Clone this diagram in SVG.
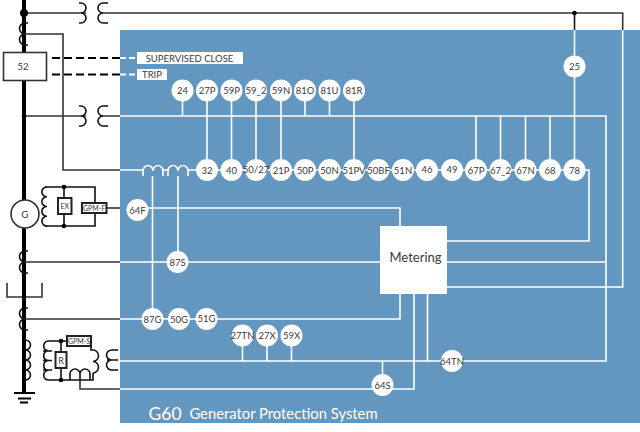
<svg xmlns="http://www.w3.org/2000/svg" xmlns:xlink="http://www.w3.org/1999/xlink" width="640" height="432" viewBox="0 0 640 432">
<style>
.d{fill:none;stroke:#333;stroke-width:1.600}
.b{fill:none;stroke:#111;stroke-width:1.600}
.w{fill:none;stroke:#fff;stroke-width:1.600}
.bus{fill:none;stroke:#000;stroke-width:4}
.dash{fill:none;stroke:#000;stroke-width:2;stroke-dasharray:8 4}
.wdash{fill:none;stroke:#fff;stroke-width:2;stroke-dasharray:6 3}
.n circle{fill:#fff}
text{font-family:"Lato","Liberation Sans",sans-serif;fill:#3a3a3a;text-anchor:middle;font-size:9.500px}
.s{font-size:7px}
.box{fill:#fff;stroke:#333;stroke-width:1.600}
.thk{fill:#fff;stroke:#222;stroke-width:2}
</style>
<defs>
<g id="ct"><path class="b" d="M-7 -10h2a5 5 0 0 1 0 10a5 5 0 0 1 0 10h-2"/><path class="b" d="M22 -10h-5a5 5 0 0 0 0 10a5 5 0 0 0 0 10h5"/></g>
<path id="vct" class="b" d="M28 -11h-3a5.500 5.500 0 0 0 0 11a5.500 5.500 0 0 0 0 11h3"/>
<circle id="dot" r="2.300" fill="#000"/>
</defs>
<rect id="panel" x="120" y="30" width="520" height="393" fill="#6497bf"/>
<g id="connectors">
<path class="bus" d="M24 0V385"/>
<path class="bus" d="M24 380V393"/>
<path class="d" d="M24 13H86M101 13H622.700V30"/>
<path class="b" d="M574.500 13V30"/>
<path class="d" d="M24 34H63V170H120"/>
<path class="d" d="M24 116H86M101 116H120"/>
<path class="d" d="M24 262H120M24 319H120"/>
<path class="d" d="M107 208H120"/>
<path class="d" d="M80 380V389H120"/>
<path class="dash" d="M52 58H120M52 74.500H120"/>
<path class="wdash" d="M120 58H137M120 74.500H137"/>
<use xlink:href="#ct" x="86" y="13"/>
<use xlink:href="#ct" x="86" y="116"/>
<use xlink:href="#vct" y="34"/>
<use xlink:href="#vct" y="262"/>
<use xlink:href="#vct" y="319"/>
<path class="d" d="M7 283V297H42V283"/>
<path class="b" d="M45 187H95V203M95 213V226H45M64 187V198M64 214V226"/>
<path class="b" d="M47 187a5 4.750 0 0 0 0 9.750a5 4.750 0 0 0 0 9.750a5 4.750 0 0 0 0 9.750a5 4.750 0 0 0 0 9.750"/>
<path class="b" d="M24 340h1a5.500 5 0 0 1 0 10a5.500 5 0 0 1 0 10a5.500 5 0 0 1 0 10a5.500 5 0 0 1 0 10h-1"/>
<path class="b" d="M52 341h-4a5.500 5 0 0 0 0 9.750a5.500 5 0 0 0 0 9.750a5.500 5 0 0 0 0 9.750a5.500 5 0 0 0 0 9.750h4M43 351h9M43 360.500h9M43 370h9"/>
<path class="b" d="M52 341H67M52 380H93V373M61 341V352M61 368V380M91 346V350H93"/>
<path class="b" d="M93 350a5.500 5.750 0 0 1 0 11.500a5.500 5.750 0 0 1 0 11.500"/>
<path class="b" d="M118 350h-6a5.500 5 0 0 0 0 10a5.500 5 0 0 0 0 10h6M107 360h11"/>
<path class="b" d="M70 380V374a5 5 0 0 1 10 0V380M80 374a5 5 0 0 1 10 0V380"/>
<path class="w" d="M120 116H606V361H118"/>
<path class="w" d="M120 170H574.500H589V241H447"/>
<path class="w" d="M622.700 30V287H447"/>
<path class="w" d="M574.500 30V170"/>
<path class="w" d="M127 208H400V226"/>
<path class="w" d="M120 262H606"/>
<path class="w" d="M120 319H400V294"/>
<path class="w" d="M120 389H414V294"/>
<path class="w" d="M427.500 294V361M382.500 361V385"/>
<path class="w" d="M152.500 170V319M178 170V262"/>
<path class="w" d="M182.500 95V116M305 95V116M329.500 95V116"/>
<path class="w" d="M207 95V170M231.500 95V170M256 95V170M281 95V170M354 95V170"/>
<path class="w" d="M476 116V170M500.500 116V170M525.500 116V170M550 116V170"/>
<path class="w" d="M242.500 340V361M267 340V361M291.500 340V361"/>
<path d="M143 176V171a5 5.500 0 0 1 10 0a5 5.500 0 0 1 10 0V176M168 176V171a5 5.500 0 0 1 10 0a5 5.500 0 0 1 10 0V176" fill="#6497bf" stroke="#fff" stroke-width="1.600"/>
<circle cx="24" cy="13" r="4" fill="#000"/>
<use xlink:href="#dot" x="574.500" y="13"/>
<use xlink:href="#dot" x="24" y="116"/>
<use xlink:href="#dot" x="24" y="297"/>
<use xlink:href="#dot" x="64" y="187"/>
<use xlink:href="#dot" x="64" y="226"/>
<use xlink:href="#dot" x="61" y="341"/>
<use xlink:href="#dot" x="61" y="380"/>
</g>
<g id="ground"><path d="M14 393H35M18 398.500H31M20 402.500H28" fill="none" stroke="#000" stroke-width="1.800"/></g>
<g id="n52"><rect class="box" x="3.500" y="52.500" width="43" height="28"/><text x="23" y="69.500">52</text></g>
<g id="nG"><circle cx="25" cy="214" r="14" class="box"/><text x="25" y="218" style="font-size:10px">G</text></g>
<g id="nEX"><rect class="thk" x="58" y="198" width="13.500" height="16"/><text class="s" x="64.700" y="209">EX</text></g>
<g id="nGPMF"><rect class="thk" x="82" y="203" width="24.500" height="10"/><text class="s" x="94.200" y="211">GPM-F</text></g>
<g id="nR"><rect class="thk" x="55.500" y="352" width="11" height="16"/><text x="61" y="364" style="font-size:9px">R</text></g>
<g id="nGPMS"><rect class="thk" x="67" y="336" width="24" height="10"/><text class="s" x="79" y="344">GPM-S</text></g>
<g id="close"><rect x="137" y="52" width="106" height="12" fill="#fff"/><text x="189.500" y="61.500">SUPERVISED CLOSE</text></g>
<g id="trip"><rect x="137" y="69" width="30" height="11" fill="#fff"/><text x="152" y="78">TRIP</text></g>
<g id="metering"><rect x="380" y="226" width="67" height="68" fill="#fff"/><text x="415.500" y="262" style="font-size:13px">Metering</text></g>
<g id="n24" class="n"><circle cx="182.500" cy="90.500" r="11"/><text x="182.500" y="94">24</text></g>
<g id="n27P" class="n"><circle cx="207" cy="90.500" r="11"/><text x="207" y="94">27P</text></g>
<g id="n59P" class="n"><circle cx="231.500" cy="90.500" r="11"/><text x="231.500" y="94">59P</text></g>
<g id="n59_2" class="n"><circle cx="256" cy="90.500" r="11"/><text x="256" y="94">59_2</text></g>
<g id="n59N" class="n"><circle cx="281" cy="90.500" r="11"/><text x="281" y="94">59N</text></g>
<g id="n81O" class="n"><circle cx="305" cy="90.500" r="11"/><text x="305" y="94">81O</text></g>
<g id="n81U" class="n"><circle cx="329.500" cy="90.500" r="11"/><text x="329.500" y="94">81U</text></g>
<g id="n81R" class="n"><circle cx="354" cy="90.500" r="11"/><text x="354" y="94">81R</text></g>
<g id="n25" class="n"><circle cx="574.500" cy="66.500" r="11"/><text x="574.500" y="70">25</text></g>
<g id="n32" class="n"><circle cx="207" cy="170" r="11"/><text x="207" y="173.500">32</text></g>
<g id="n40" class="n"><circle cx="231.500" cy="170" r="11"/><text x="231.500" y="173.500">40</text></g>
<g id="n50_27" class="n"><circle cx="256" cy="170" r="11"/><text x="256" y="172.500">50/27</text></g>
<g id="n21P" class="n"><circle cx="281" cy="170" r="11"/><text x="281" y="173.500">21P</text></g>
<g id="n50P" class="n"><circle cx="305" cy="170" r="11"/><text x="305" y="173.500">50P</text></g>
<g id="n50N" class="n"><circle cx="329.500" cy="170" r="11"/><text x="329.500" y="173.500">50N</text></g>
<g id="n51PV" class="n"><circle cx="354" cy="170" r="11"/><text x="354" y="173.500">51PV</text></g>
<g id="n50BF" class="n"><circle cx="378.500" cy="170" r="11"/><text x="378.500" y="173.500">50BF</text></g>
<g id="n51N" class="n"><circle cx="403" cy="170" r="11"/><text x="403" y="173.500">51N</text></g>
<g id="n46" class="n"><circle cx="427" cy="170" r="11"/><text x="427" y="173">46</text></g>
<g id="n49" class="n"><circle cx="452" cy="170" r="11"/><text x="452" y="173">49</text></g>
<g id="n67P" class="n"><circle cx="476" cy="170" r="11"/><text x="476" y="173.500">67P</text></g>
<g id="n67_2" class="n"><circle cx="500.500" cy="170" r="11"/><text x="500.500" y="173.500">67_2</text></g>
<g id="n67N" class="n"><circle cx="525.500" cy="170" r="11"/><text x="525.500" y="173.500">67N</text></g>
<g id="n68" class="n"><circle cx="550" cy="170" r="11"/><text x="550" y="173.500">68</text></g>
<g id="n78" class="n"><circle cx="574.500" cy="170" r="11"/><text x="574.500" y="173.500">78</text></g>
<g id="n64F" class="n"><circle cx="137.500" cy="210" r="11"/><text x="137.500" y="213.500">64F</text></g>
<g id="n87S" class="n"><circle cx="177.500" cy="262" r="11"/><text x="177.500" y="265.500">87S</text></g>
<g id="n87G" class="n"><circle cx="152.500" cy="319" r="11"/><text x="152.500" y="322.500">87G</text></g>
<g id="n50G" class="n"><circle cx="179" cy="319" r="11"/><text x="179" y="322.500">50G</text></g>
<g id="n51G" class="n"><circle cx="206.500" cy="319" r="11"/><text x="206.500" y="322">51G</text></g>
<g id="n27TN" class="n"><circle cx="242.500" cy="335.500" r="11"/><text x="242.500" y="338.500">27TN</text></g>
<g id="n27X" class="n"><circle cx="267" cy="335.500" r="11"/><text x="267" y="338.500">27X</text></g>
<g id="n59X" class="n"><circle cx="291.500" cy="335.500" r="11"/><text x="291.500" y="338.500">59X</text></g>
<g id="n64TN" class="n"><circle cx="452" cy="361" r="11"/><text x="452" y="364.500">64TN</text></g>
<g id="n64S" class="n"><circle cx="382.500" cy="385" r="11"/><text x="382.500" y="388.500">64S</text></g>
<g id="title"><text x="165" y="420" style="font-size:17.500px;fill:#fff">G60</text><text x="283.500" y="419" style="font-size:14.800px;fill:#fff">Generator Protection System</text></g>
</svg>
